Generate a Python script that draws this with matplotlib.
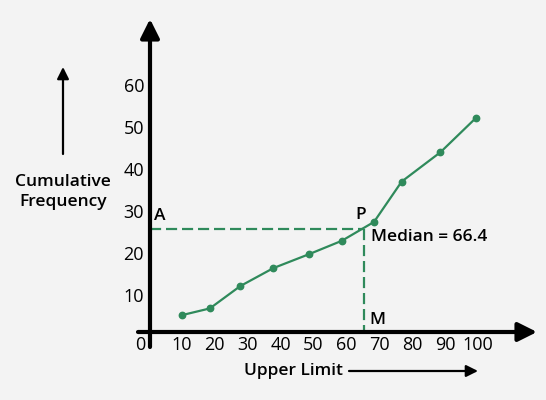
import matplotlib
matplotlib.use("Agg")
import matplotlib.pyplot as plt

# ---- data ----
upper_limit = [10, 18.5, 27.7, 37.8, 48.6, 58.6, 68.4, 76.8, 88.6, 99.3]
cum_freq = [5.8, 7.4, 12.7, 17.0, 20.3, 23.5, 28.0, 37.6, 44.6, 52.7]
x_ticks = [10, 20, 30, 40, 50, 60, 70, 80, 90, 100]
y_ticks = [10, 20, 30, 40, 50, 60]
median_x = 65.2
median_y = 26.2
median_label = "Median = 66.4"

GREEN = "#2f8a5b"
BG = "#f3f3f3"
FONT = ["Open Sans", "DejaVu Sans"]

# pixel mapping: px = X0 + SX*x ; py = Y0 - SY*y
X0, SX = 149.0, 3.29
Y0, SY = 339.5, 4.2
W, H = 546, 400

fig = plt.figure(figsize=(W / 100, H / 100), dpi=100, facecolor=BG)
ax = fig.add_axes([0, 0, 1, 1])
ax.set_facecolor(BG)
ax.set_xlim(-X0 / SX, (W - X0) / SX)
ax.set_ylim((Y0 - H) / SY, Y0 / SY)
ax.axis("off")

def dx(px):
    return (px - X0) / SX

def dy(py):
    return (Y0 - py) / SY

axis_y = dy(332)

# axes with arrows
arrow_kw = dict(arrowstyle="-|>,head_length=0.6,head_width=0.3", lw=3,
                color="black", mutation_scale=19, shrinkA=0, shrinkB=0)
ax.annotate("", xy=(dx(150), dy(19)), xytext=(dx(150), dy(347)), arrowprops=arrow_kw)
ax.annotate("", xy=(dx(537), axis_y), xytext=(dx(138), axis_y), arrowprops=arrow_kw)

# tick labels
TICK_FS = 13
for v in y_ticks:
    ax.text(dx(144), v, str(v), ha="right", va="center", fontsize=TICK_FS,
            family=FONT, weight="medium", color="black")
for v in x_ticks:
    ax.text(v, dy(345), str(v), ha="center", va="center", fontsize=TICK_FS,
            family=FONT, weight="medium", color="black")
ax.text(dx(140), dy(345), "0", ha="center", va="center", fontsize=TICK_FS,
        family=FONT, weight="medium", color="black")

# axis titles
LAB_FS = 12.5
ax.text(dx(293), dy(371), "Upper Limit", ha="center", va="center", fontsize=LAB_FS,
        family=FONT, weight="semibold")
small_arrow = dict(arrowstyle="-|>,head_length=0.5,head_width=0.25", lw=1.6,
                   color="black", mutation_scale=14, shrinkA=0, shrinkB=0)
ax.annotate("", xy=(dx(478), dy(371)), xytext=(dx(349), dy(371)), arrowprops=small_arrow)
ax.text(dx(63), dy(182), "Cumulative", ha="center", va="center", fontsize=LAB_FS,
        family=FONT, weight="semibold")
ax.text(dx(63), dy(202), "Frequency", ha="center", va="center", fontsize=LAB_FS,
        family=FONT, weight="semibold")
ax.annotate("", xy=(dx(63), dy(67)), xytext=(dx(63), dy(154)), arrowprops=small_arrow)

# ogive
ax.plot(upper_limit, cum_freq, color=GREEN, lw=1.6, marker="o", markersize=4.6,
        zorder=3)

# median dashed lines
ax.plot([dx(150), median_x], [median_y, median_y], color=GREEN, lw=1.6,
        dashes=(5, 2.2), zorder=2)
ax.plot([median_x, median_x], [median_y, axis_y], color=GREEN, lw=1.6,
        dashes=(5, 2.2), zorder=2)

# annotations
ax.text(dx(160), dy(216), "A", ha="center", va="center", fontsize=LAB_FS,
        family=FONT, weight="semibold")
ax.text(dx(361), dy(215), "P", ha="center", va="center", fontsize=LAB_FS,
        family=FONT, weight="semibold")
ax.text(dx(371), dy(237), median_label, ha="left", va="center", fontsize=LAB_FS,
        family=FONT, weight="semibold")
ax.text(dx(377), dy(320), "M", ha="center", va="center", fontsize=LAB_FS,
        family=FONT, weight="semibold")

fig.savefig("out.png", dpi=100, facecolor=BG)
